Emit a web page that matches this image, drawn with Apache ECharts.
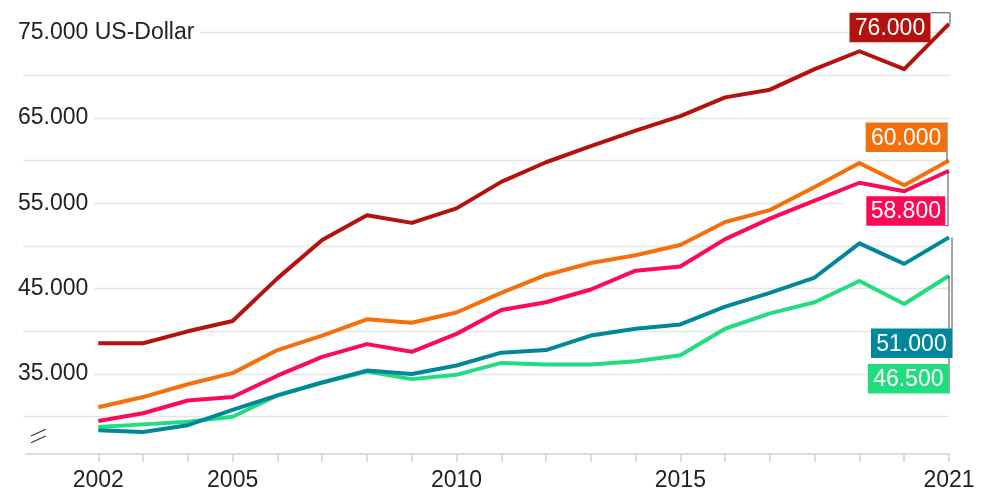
<!DOCTYPE html>
<html>
<head>
<meta charset="utf-8">
<script src="https://cdn.jsdelivr.net/npm/echarts@6/dist/echarts.min.js"></script>
<style>
html,body{margin:0;padding:0;background:#fff;}
#chart{width:1000px;height:496px;}
</style>
</head>
<body>
<div id="chart"></div>
<script>
// ---- data ----
const YEARS = [2002,2003,2004,2005,2006,2007,2008,2009,2010,2011,2012,2013,2014,2015,2016,2017,2018,2019,2020,2021];
const SERIES_NAMES = ['Reihe 1','Reihe 2','Reihe 3','Reihe 4','Reihe 5'];
const VALUES_RED    = [38600,38600,40000,41200,46200,50700,53600,52700,54400,57500,59800,61700,63500,65200,67400,68300,70700,72800,70700,76000];
const VALUES_ORANGE = [31100,32300,33800,35100,37800,39500,41400,41000,42200,44500,46600,48000,48900,50100,52800,54200,56900,59700,57100,60000];
const VALUES_PINK   = [29500,30400,31900,32300,34800,37000,38500,37600,39700,42500,43400,44900,47100,47600,50800,53200,55300,57400,56400,58800];
const VALUES_TEAL   = [28400,28200,29000,30800,32500,34000,35400,35000,36000,37500,37800,39500,40300,40800,42900,44500,46300,50300,47900,51000];
const VALUES_GREEN  = [28800,29100,29400,30000,32500,34000,35300,34400,34900,36300,36100,36100,36500,37200,40300,42100,43400,45900,43200,46500];
const X_TICKS  = YEARS;
const X_LABELS = [2002,2005,2010,2015,2021];
const Y_LABELS = [35000,45000,55000,65000,75000];
const Y_UNIT = 'US-Dollar';

// ---- styles ----
const FONT = '"Liberation Sans", Arial, sans-serif';
// drawing order: green, teal, pink, orange, red
const ORDER = [
  {values: VALUES_GREEN,  name: SERIES_NAMES[4], color: '#22dd80'},
  {values: VALUES_TEAL,   name: SERIES_NAMES[3], color: '#00879c'},
  {values: VALUES_PINK,   name: SERIES_NAMES[2], color: '#fc0a55'},
  {values: VALUES_ORANGE, name: SERIES_NAMES[1], color: '#f5700b'},
  {values: VALUES_RED,    name: SERIES_NAMES[0], color: '#b3120e'}
];
// end-label boxes (offsets relative to last point, in px)
const ANN_STYLE = [
  {dx: -40.7, dy: 102.9, w: 81, h: 29.5, lead: 'bottom', lx: 0,  pad: 0},
  {dx: -37.5, dy: 105.9, w: 81, h: 29.5, lead: 'bottom', lx: 3,  pad: 0},
  {dx: -43.2, dy: 40.2,  w: 79, h: 29.5, lead: 'bottom', lx: -1, pad: 22},
  {dx: -42.8, dy: -23.3, w: 81, h: 29.5, lead: 'top',    lx: -2, pad: 0},
  {dx: -59,   dy: 3.6,   w: 81, h: 29.5, lead: 'top',    lx: 1,  pad: 0}
];

function fmt(v) {
  return Math.round(v).toString().replace(/\B(?=(\d{3})+(?!\d))/g, '.');
}

const lineSeries = ORDER.map(function (s) {
  return {
    type: 'line',
    name: s.name,
    xAxisIndex: 0,
    yAxisIndex: 0,
    data: YEARS.map(function (y, i) { return [y, s.values[i]]; }),
    symbol: 'none',
    smooth: false,
    clip: false,
    lineStyle: {color: s.color, width: 4, join: 'round', cap: 'butt'},
    itemStyle: {color: s.color},
    emphasis: {disabled: true},
    z: 3
  };
});

const annData = ORDER.map(function (s, i) {
  return [YEARS[YEARS.length - 1], s.values[s.values.length - 1], i];
});

const annSeries = {
  type: 'custom',
  xAxisIndex: 0,
  yAxisIndex: 0,
  clip: false,
  z: 10,
  silent: true,
  data: annData,
  renderItem: function (params, api) {
    const i = api.value(2);
    const a = ANN_STYLE[i];
    const p = api.coord([api.value(0), api.value(1)]);
    const cx = p[0] + a.dx, cy = p[1] + a.dy;
    const left = cx - a.w / 2, top = cy - a.h / 2;
    const right = left + a.w, bottom = top + a.h;
    const farY = a.lead === 'top' ? top : bottom;
    const lx = p[0] + a.lx;
    const children = [];
    if (a.pad) {
      children.push({type: 'rect', shape: {x: left - a.pad, y: top, width: a.pad, height: a.h}, style: {fill: '#fff'}});
    }
    children.push({type: 'polyline', shape: {points: [[lx, p[1]], [lx, farY], [right, farY]]}, style: {stroke: '#4a4a4a', lineWidth: 1, fill: null}});
    children.push({type: 'rect', shape: {x: left, y: top, width: a.w, height: a.h}, style: {fill: ORDER[i].color}});
    children.push({type: 'text', style: {text: fmt(api.value(1)), x: cx, y: cy + 1, align: 'center', verticalAlign: 'middle', fill: '#fff', font: '23px ' + FONT}});
    return {type: 'group', children: children};
  }
};

const chart = echarts.init(document.getElementById('chart'), null, {renderer: 'canvas'});
chart.setOption({
  animation: false,
  backgroundColor: '#fff',
  textStyle: {fontFamily: FONT},
  grid: [
    {left: 26, right: 51, top: 15.4, bottom: 42, containLabel: false, outerBoundsMode: 'none'},
    {left: 23, right: 51, top: 32.5, bottom: 36.6, containLabel: false, outerBoundsMode: 'none'}
  ],
  xAxis: [
    {
      gridIndex: 0, type: 'value', min: 2000.385, max: 2021,
      axisLine: {show: true, lineStyle: {color: '#d2d2d2', width: 1.5}},
      axisTick: {show: true, customValues: X_TICKS, length: 8, lineStyle: {color: '#d2d2d2', width: 1.5}},
      axisLabel: {show: true, customValues: X_LABELS, formatter: function (v) { return String(v); }, color: '#222', fontSize: 23, fontFamily: FONT, margin: 15},
      splitLine: {show: false}
    },
    {gridIndex: 1, type: 'value', min: 2000.385, max: 2021, show: false}
  ],
  yAxis: [
    {gridIndex: 0, type: 'value', min: 25630, max: 77000, show: false, splitLine: {show: false}},
    {
      gridIndex: 1, type: 'value', min: 25000, max: 75000, interval: 5000,
      axisLine: {show: false}, axisTick: {show: false},
      splitLine: {show: true, showMinLine: false, showMaxLine: true, lineStyle: {color: '#e6e6e6', width: 1.3}},
      axisLabel: {
        show: true, customValues: Y_LABELS, align: 'left', verticalAlign: 'middle', margin: 5,
        color: '#222', fontSize: 23, fontFamily: FONT,
        backgroundColor: '#fff', padding: [1, 6, 1, 0],
        formatter: function (v) {
          if (Y_LABELS.indexOf(v) < 0) return '';
          return v === Y_LABELS[Y_LABELS.length - 1] ? fmt(v) + ' ' + Y_UNIT : fmt(v);
        }
      }
    }
  ],
  graphic: [
    {type: 'line', shape: {x1: 31, y1: 442.7, x2: 45.7, y2: 436}, style: {stroke: '#333', lineWidth: 1.2}},
    {type: 'line', shape: {x1: 31, y1: 436, x2: 45.7, y2: 429.3}, style: {stroke: '#333', lineWidth: 1.2}}
  ],
  series: lineSeries.concat([annSeries])
});
</script>
</body>
</html>
